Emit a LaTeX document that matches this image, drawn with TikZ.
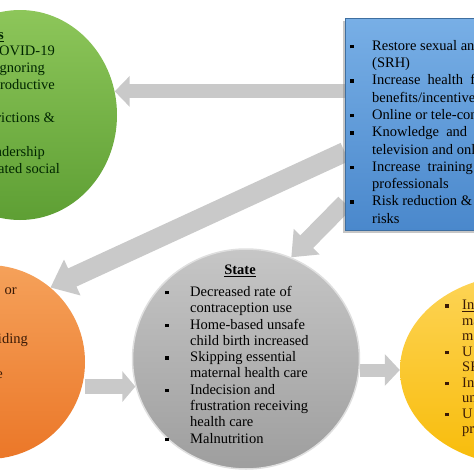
\documentclass[tikz,border=0pt]{standalone}
\usepackage{fontspec}
\setmainfont{Liberation Serif}
\usetikzlibrary{shapes.geometric, arrows.meta, shadows}
\pgfdeclarelayer{bg}
\pgfsetlayers{bg,main}

\definecolor{arrgray}{HTML}{C9C9C9}
\definecolor{grn}{HTML}{5E9F34}
\definecolor{grnlt}{HTML}{8DC65A}
\definecolor{blu}{HTML}{4A88CC}
\definecolor{blult}{HTML}{78AFE6}
\definecolor{bludk}{HTML}{3F6FA0}
\definecolor{org}{HTML}{EB7728}
\definecolor{orglt}{HTML}{F5A15A}
\definecolor{gry}{HTML}{9E9E9E}
\definecolor{grylt}{HTML}{C6C6C6}
\definecolor{yel}{HTML}{F8BC0A}
\definecolor{yellt}{HTML}{FDD456}
\definecolor{brn}{HTML}{3A1A06}

\newcommand{\sqb}[1][25pt]{\makebox[#1][l]{\rule[2pt]{3.5pt}{3.5pt}}}
\newcommand{\bind}[1][25pt]{\hspace*{#1}}

\tikzset{
  blob/.style={ellipse, inner sep=0pt},
  blockarr/.style n args={3}{draw=arrgray, line width=#1, -{Triangle[length=#2, width=#3]}},
  txt/.style={font=\fontsize{14.5}{16.3}\selectfont, inner sep=0pt}
}

\begin{document}
\begin{tikzpicture}[x=1pt, y=-1pt]
        \useasboundingbox (0,0) rectangle (474,474);

        % the four blobs and the box
        \node[blob, minimum width=194pt, minimum height=210pt, top color=grnlt, bottom color=grn] (drivers) at (20,115) {};
        \node[blob, minimum width=194pt, minimum height=194pt, top color=orglt, bottom color=org] (pressure) at (-12,362) {};
        \node[blob, minimum width=227pt, minimum height=220pt, top color=grylt, bottom color=gry, draw=white!75!gray, line width=1.5pt] (state) at (246,359) {};
        \node[blob, minimum width=240pt, minimum height=190pt, top color=yellt, bottom color=yel] (impact) at (520,370) {};
        \node[draw=bludk, top color=blult, bottom color=blu, minimum width=150pt, minimum height=212pt, inner sep=0pt,
              drop shadow={shadow xshift=-2pt, shadow yshift=-3pt, fill=gray, opacity=.45}] (resp) at (420,124) {};

        \begin{pgfonlayer}{bg}
          \draw[blockarr={14pt}{15pt}{30pt}] (resp.west |- drivers.14) -- (drivers.14);
          \draw[blockarr={20pt}{24pt}{38pt}] (resp.west |- 0,152) -- (pressure.50);
          \draw[blockarr={18pt}{22pt}{35pt}] (resp.west |- 0,203) -- (state.66);
          \draw[blockarr={15pt}{13pt}{30pt}] (pressure.east |- state.194) -- (state.194);
          \draw[blockarr={13pt}{15pt}{31pt}] (state.east |- impact.west) -- (impact.west);
        \end{pgfonlayer}

        % cut-off texts at the left edge
        \foreach \t/\x/\y [count=\i] in {{\textbf{\underline{s}}}/4/37, COVID-19/55/53, ignoring/45/70,
            productive/55/87, {rictions \&}/55/120, adership/45/154, {ated social}/60/171} {%
          \node[txt, anchor=mid east, text=black!85!green] (drv\i) at (\x,\y) {\t};
        }
        \foreach \t/\x/\y [count=\i] in {or/17/292, iding/28/341, e/3/376} {%
          \node[txt, anchor=mid east, text=brn] (prs\i) at (\x,\y) {\t};
        }

        \node[txt, anchor=north west, align=left, font=\fontsize{14.5}{17.3}\selectfont] (resptxt) at (350,40) {%
          \sqb[22pt]Restore sexual an\\
          \bind[22pt](SRH)\\
          \sqb[22pt]Increase\ \ health\ \ fi\\
          \bind[22pt]benefits/incentives\\
          \sqb[22pt]Online or tele-con\\
          \sqb[22pt]Knowledge\ \ and\ \ a\\
          \bind[22pt]television and onl\\
          \sqb[22pt]Increase\ \ training\\
          \bind[22pt]professionals\\
          \sqb[22pt]Risk reduction \&\\
          \bind[22pt]risks};

        \node[txt, anchor=mid] (statehd) at (240,272) {\textbf{\underline{State}}};
        \node[txt, anchor=north west, align=left] (statetxt) at (165,286) {%
          \sqb Decreased rate of\\
          \bind contraception use\\
          \sqb Home-based unsafe\\
          \bind child birth increased\\
          \sqb Skipping essential\\
          \bind maternal health care\\
          \sqb Indecision and\\
          \bind frustration receiving\\
          \bind health care\\
          \sqb Malnutrition};

        \node[txt, anchor=north west, align=left, text=brn, font=\fontsize{14.5}{15.5}\selectfont] (imptxt) at (445,300) {%
          \sqb[17pt]\underline{In}\\
          \bind[17pt]ma\\
          \bind[17pt]m\\
          \sqb[17pt]U\\
          \bind[17pt]SR\\
          \sqb[17pt]In\\
          \bind[17pt]un\\
          \sqb[17pt]U\\
          \bind[17pt]pr};
      \end{tikzpicture}
\end{document}
